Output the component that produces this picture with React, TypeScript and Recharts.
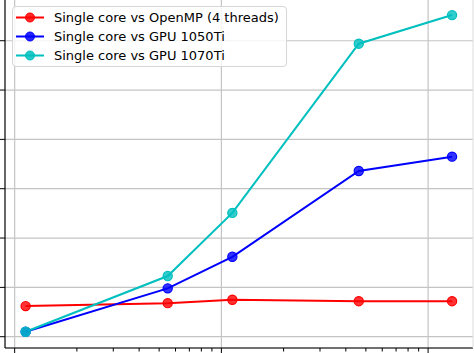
import * as React from "react"
import { CartesianGrid, Line, LineChart, ReferenceLine, XAxis, YAxis } from "recharts"

const sizes = [1.13, 5.5, 11.3, 46.2, 130.6]
const openmp = [6.2, 6.8, 7.5, 7.2, 7.2]
const gpu1050 = [1.0, 9.8, 16.2, 33.6, 36.5]
const gpu1070 = [1.0, 12.3, 25.1, 59.4, 65.2]

const seriesNames = [
    "Single core vs OpenMP (4 threads)",
    "Single core vs GPU 1050Ti",
    "Single core vs GPU 1070Ti",
]
const seriesColors = ["#ff0000", "#0000ff", "#00bfbf"]

const majorX = [1, 10, 100]
const minorX = [2, 3, 4, 5, 6, 7, 8, 9, 20, 30, 40, 50, 60, 70, 80, 90, 200]
const yTicks = [0, 10, 20, 30, 40, 50, 60]

const data = sizes.map((x, i) => ({
    x,
    openmp: openmp[i],
    gpu1050: gpu1050[i],
    gpu1070: gpu1070[i],
}))

const GRID = "#c4c4c4"
const FONT = "DejaVu Sans"

// tick marks only: the tick labels sit outside the cropped view
const XTick = (props: any) => {
    const { x, y, payload } = props
    const major = majorX.includes(payload.value)
    return <line x1={x} x2={x} y1={y} y2={y + (major ? 6 : 3.5)} stroke="#000" strokeWidth={1} />
}

const YTick = (props: any) => {
    const { x, y } = props
    return <line x1={x - 6} x2={x} y1={y} y2={y} stroke="#000" strokeWidth={1} />
}

const LegendBox = () => (
    <div
        style={{
            position: "absolute",
            left: 12,
            top: 6,
            background: "rgba(255,255,255,0.8)",
            border: "1px solid #d6d6d6",
            borderRadius: 4,
            width: 275,
            height: 61,
            boxSizing: "border-box",
            paddingTop: 1,
            fontFamily: FONT,
            fontSize: 13,
            color: "#000",
        }}
    >
        {seriesNames.map((name, i) => (
            <div key={name} style={{ display: "flex", alignItems: "center", height: 19 }}>
                <svg width={41} height={19} style={{ flex: "none" }}>
                    <line x1={3} x2={31} y1={9.5} y2={9.5} stroke={seriesColors[i]} strokeWidth={2} />
                    <circle cx={17} cy={9.5} r={4.5} fill={seriesColors[i]} fillOpacity={0.85} stroke={seriesColors[i]} />
                </svg>
                <span style={{ whiteSpace: "nowrap" }}>{name}</span>
            </div>
        ))}
    </div>
)

const dot = (color: string) => ({ r: 4.6, fill: color, fillOpacity: 0.8, stroke: color, strokeWidth: 1.2 })

export default function App() {
    return (
        <div
            style={{
                position: "absolute",
                left: 0,
                top: 0,
                width: 474,
                height: 353,
                overflow: "hidden",
                background: "#fff",
            }}
        >
            <div style={{ position: "absolute", left: -55, top: -20 }}>
                <LineChart width={538} height={408} data={data} margin={{ top: 19, right: 0, bottom: 0, left: 0 }}>
                    <CartesianGrid vertical={false} stroke={GRID} strokeWidth={1.2} />
                    {majorX.map((v) => (
                        <ReferenceLine key={v} x={v} stroke={GRID} strokeWidth={1.2} />
                    ))}
                    <XAxis
                        dataKey="x"
                        type="number"
                        scale="log"
                        domain={[0.898, 164.9]}
                        allowDataOverflow
                        ticks={[...majorX, ...minorX]}
                        interval={0}
                        tickLine={false}
                        tickSize={0}
                        tickMargin={0}
                        tick={<XTick />}
                        axisLine={{ stroke: "#000", strokeWidth: 1.2 }}
                        height={40}
                    />
                    <YAxis
                        type="number"
                        domain={[-2.29, 68.46]}
                        allowDataOverflow
                        ticks={yTicks}
                        interval={0}
                        width={60}
                        tickLine={false}
                        tickSize={0}
                        tickMargin={0}
                        tick={<YTick />}
                        axisLine={{ stroke: "#000", strokeWidth: 1.2 }}
                    />
                    <YAxis
                        yAxisId="right"
                        orientation="right"
                        width={10}
                        tick={false}
                        tickLine={false}
                        axisLine={{ stroke: "#dcdcdc" }}
                    />
                    <Line
                        dataKey="openmp"
                        name={seriesNames[0]}
                        stroke={seriesColors[0]}
                        strokeWidth={2}
                        dot={dot(seriesColors[0])}
                        isAnimationActive={false}
                    />
                    <Line
                        dataKey="gpu1050"
                        name={seriesNames[1]}
                        stroke={seriesColors[1]}
                        strokeWidth={2}
                        dot={dot(seriesColors[1])}
                        isAnimationActive={false}
                    />
                    <Line
                        dataKey="gpu1070"
                        name={seriesNames[2]}
                        stroke={seriesColors[2]}
                        strokeWidth={2}
                        dot={dot(seriesColors[2])}
                        isAnimationActive={false}
                    />
                </LineChart>
            </div>
            <LegendBox />
        </div>
    )
}
